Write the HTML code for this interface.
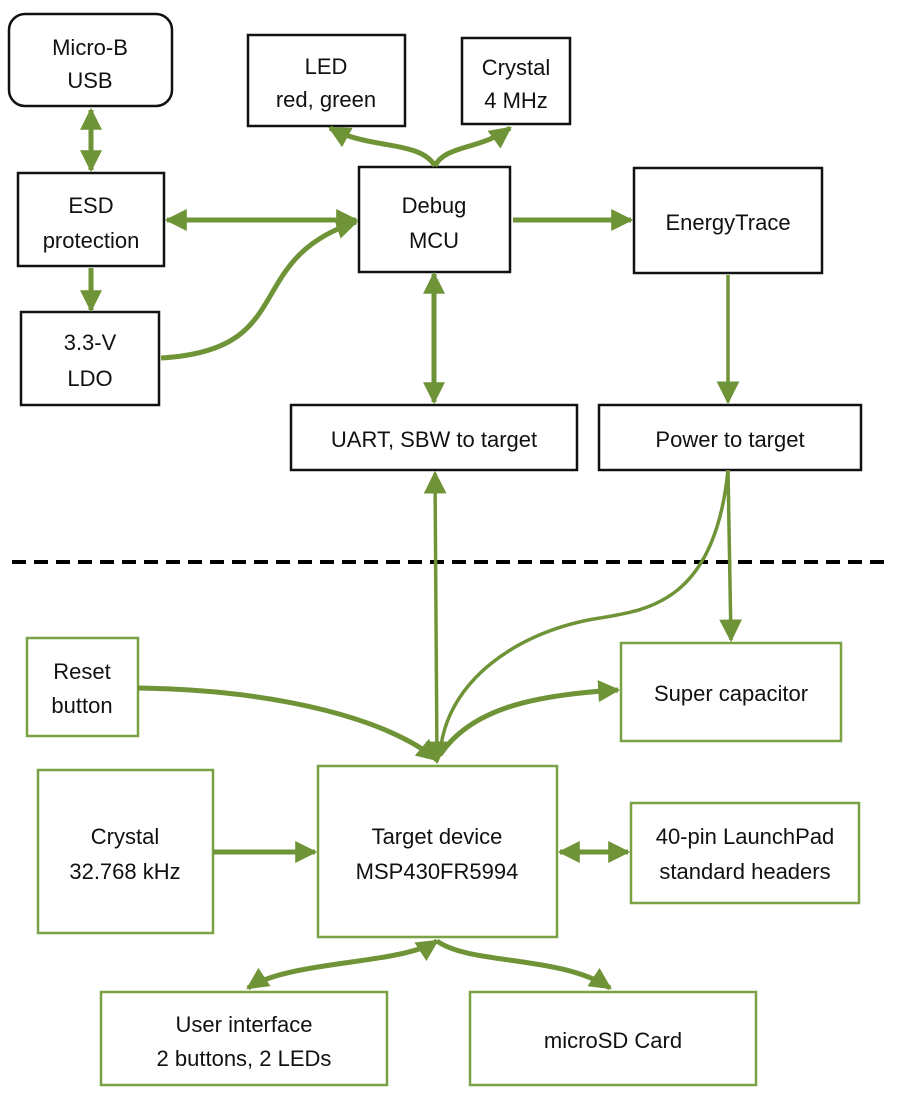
<!DOCTYPE html>
<html><head><meta charset="utf-8"><style>
html,body{margin:0;padding:0;background:#fff;}
svg{display:block;}
text{font-family:"Liberation Sans",sans-serif;font-size:22px;fill:#111;text-anchor:middle;}
</style></head><body>
<svg width="902" height="1100" viewBox="0 0 902 1100" xmlns="http://www.w3.org/2000/svg">
<defs>
<marker id="a" viewBox="0 0 10 10" refX="9" refY="5" markerWidth="4.4" markerHeight="4.4" orient="auto-start-reverse" markerUnits="strokeWidth">
<path d="M0,0 L10,5 L0,10 z" fill="#6f9437"/></marker>
<marker id="b" viewBox="0 0 10 10" refX="9" refY="5" markerWidth="6.5" markerHeight="6.5" orient="auto-start-reverse" markerUnits="strokeWidth">
<path d="M0,0 L10,5 L0,10 z" fill="#6f9437"/></marker>
</defs>
<g fill="none" stroke="#111" stroke-width="2.5">
<rect x="9" y="14" width="163" height="92" rx="16"/>
<rect x="248" y="35" width="157" height="91"/>
<rect x="462" y="38" width="108" height="86"/>
<rect x="18" y="173" width="146" height="93"/>
<rect x="359" y="167" width="151" height="105"/>
<rect x="634" y="168" width="188" height="105"/>
<rect x="21" y="312" width="138" height="93"/>
<rect x="291" y="405" width="286" height="65"/>
<rect x="599" y="405" width="262" height="65"/>
</g>
<g fill="none" stroke="#7aa244" stroke-width="2.5">
<rect x="27" y="638" width="111" height="98"/>
<rect x="621" y="643" width="220" height="98"/>
<rect x="38" y="770" width="175" height="163"/>
<rect x="318" y="766" width="239" height="171"/>
<rect x="631" y="803" width="228" height="100"/>
<rect x="101" y="992" width="286" height="93"/>
<rect x="470" y="992" width="286" height="93"/>
</g>
<line x1="12" y1="562" x2="890" y2="562" stroke="#000" stroke-width="4" stroke-dasharray="14,8"/>
<g fill="none" stroke="#6f9437" stroke-width="5">
<line x1="91" y1="110" x2="91" y2="170" marker-start="url(#a)" marker-end="url(#a)"/>
<line x1="91" y1="268" x2="91" y2="310" marker-end="url(#a)"/>
<line x1="167" y1="220" x2="356" y2="220" marker-start="url(#a)" marker-end="url(#a)"/>
<path d="M161,358 C300,350 240,260 356,222" marker-end="url(#a)"/>
<path d="M435,166 C420,140 370,150 330,128" marker-end="url(#a)"/>
<path d="M435,166 C445,145 480,150 510,128" marker-end="url(#a)"/>
<line x1="513" y1="220" x2="631" y2="220" marker-end="url(#a)"/>
<line x1="434" y1="274" x2="434" y2="402" marker-start="url(#a)" marker-end="url(#a)"/>
</g>
<g fill="none" stroke="#6f9437" stroke-width="3.5">
<line x1="728" y1="275" x2="728" y2="402" marker-end="url(#b)"/>
<line x1="435" y1="473" x2="437" y2="762" marker-start="url(#b)" marker-end="url(#b)"/>
<line x1="728" y1="470" x2="731" y2="640" marker-end="url(#b)"/>
<path d="M728,470 C715,600 650,610 600,618 C520,630 445,680 440,755"/>
<path d="M138,688 C280,690 390,720 437,760" stroke-width="5" marker-end="url(#a)"/>
<path d="M440,755 C470,710 530,695 618,690" stroke-width="5" marker-end="url(#a)"/>
<line x1="213" y1="852" x2="315" y2="852" stroke-width="5" marker-end="url(#a)"/>
<line x1="560" y1="852" x2="628" y2="852" stroke-width="5" marker-start="url(#a)" marker-end="url(#a)"/>
<path d="M437,941 C400,965 290,960 248,988" stroke-width="5" marker-start="url(#a)" marker-end="url(#a)"/>
<path d="M437,941 C470,965 560,955 610,988" stroke-width="5" marker-end="url(#a)"/>
</g>
<text x="90" y="55">Micro-B</text><text x="90" y="88">USB</text>
<text x="326" y="74">LED</text><text x="326" y="107">red, green</text>
<text x="516" y="75">Crystal</text><text x="516" y="108">4 MHz</text>
<text x="91" y="213">ESD</text><text x="91" y="248">protection</text>
<text x="434" y="213">Debug</text><text x="434" y="248">MCU</text>
<text x="728" y="230">EnergyTrace</text>
<text x="90" y="350">3.3-V</text><text x="90" y="386">LDO</text>
<text x="434" y="447">UART, SBW to target</text>
<text x="730" y="447">Power to target</text>
<text x="82" y="679">Reset</text><text x="82" y="713">button</text>
<text x="731" y="701">Super capacitor</text>
<text x="125" y="844">Crystal</text><text x="125" y="879">32.768 kHz</text>
<text x="437" y="844">Target device</text><text x="437" y="879">MSP430FR5994</text>
<text x="745" y="844">40-pin LaunchPad</text><text x="745" y="879">standard headers</text>
<text x="244" y="1032">User interface</text><text x="244" y="1066">2 buttons, 2 LEDs</text>
<text x="613" y="1048">microSD Card</text>
</svg>
</body></html>
